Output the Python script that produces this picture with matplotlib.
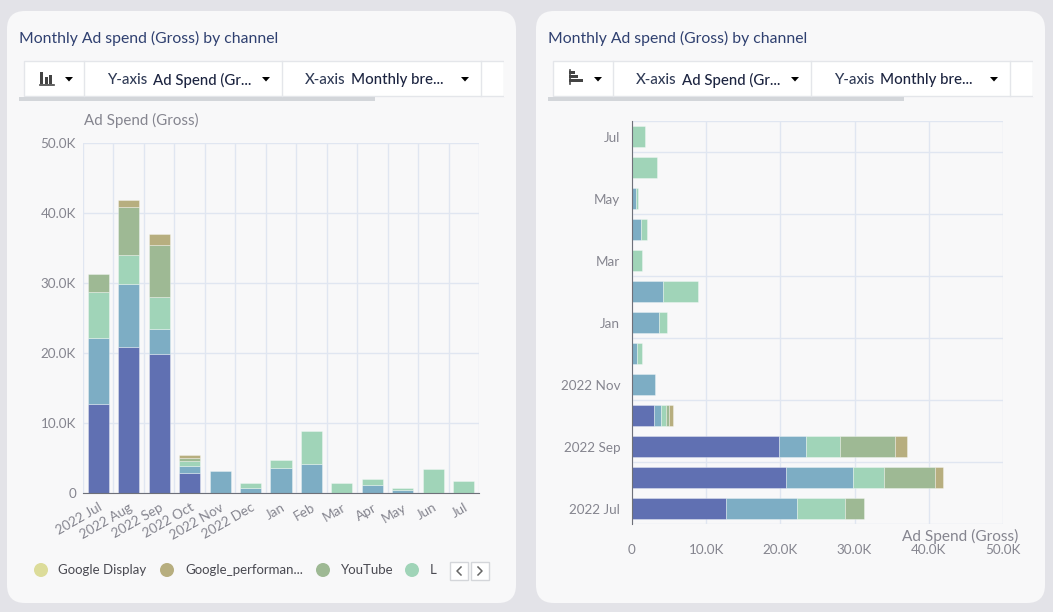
import numpy as np
import matplotlib
matplotlib.use('Agg')
import matplotlib.pyplot as plt
from matplotlib.patches import FancyBboxPatch, Rectangle, Circle, Polygon

plt.rcParams['font.family'] = ['Lato', 'DejaVu Sans']

months = ['2022 Jul', '2022 Aug', '2022 Sep', '2022 Oct', '2022 Nov', '2022 Dec',
          'Jan', 'Feb', 'Mar', 'Apr', 'May', 'Jun', 'Jul']
# valores em milhares, de baixo para cima na pilha
series_a = [12.7, 20.8, 19.8, 2.9, 0, 0, 0, 0, 0, 0, 0, 0, 0]
series_b = [9.5, 9.0, 3.7, 1.0, 3.1, 0.7, 3.6, 4.2, 0, 1.2, 0.5, 0, 0]
linkedin = [6.5, 4.2, 4.5, 0.7, 0, 0.7, 1.1, 4.7, 1.4, 0.8, 0.25, 3.4, 1.7]
youtube = [2.6, 6.8, 7.5, 0.4, 0, 0, 0, 0, 0, 0, 0, 0, 0]
google_perf = [0, 1.1, 1.5, 0.5, 0, 0, 0, 0, 0, 0, 0, 0, 0]

stack = [series_a, series_b, linkedin, youtube, google_perf]
colors = ['#6070b2', '#7dadc4', '#a0d4b8', '#9eb994', '#b7ae7f']
value_ticks = [0, 10, 20, 30, 40, 50]
value_labels = ['0', '10.0K', '20.0K', '30.0K', '40.0K', '50.0K']
legend_names = ['Google Display', 'Google_performan...', 'YouTube', 'L']
legend_colors = ['#dcdc9a', '#b7ae7f', '#9eb994', '#a0d4b8']

W, H = 1053, 612
GRID = '#e0e6f1'
TXT = '#85858f'
CARD = '#f8f8f9'
fig = plt.figure(figsize=(W / 100, H / 100), dpi=100, facecolor='#e3e3e8')

# camada de fundo em pixels (cartoes, barra de ferramentas, legenda)
bg = fig.add_axes([0, 0, 1, 1], zorder=0)
bg.set_xlim(0, W)
bg.set_ylim(H, 0)
bg.axis('off')


def card(x):
    bg.add_patch(FancyBboxPatch((x, 11), 509, 592, boxstyle='round,pad=0,rounding_size=18',
                                lw=0, fc=CARD))


def toolbar(x, first, second, icon):
    bg.text(x + 12, 38, 'Monthly Ad spend (Gross) by channel', fontsize=11.3,
            color='#2f4070', va='center')
    bg.add_patch(Rectangle((x + 17, 61), 480, 35, fc='white', ec='#e4e6ea', lw=1))
    for dx in (77, 275, 474):
        bg.plot([x + dx, x + dx], [61, 96], color='#e4e6ea', lw=1)
    bg.add_patch(Rectangle((x + 12, 97), 356, 4, fc='#d3d6da', lw=0))
    # tapa a borda direita, a barra continua cortada
    bg.add_patch(Rectangle((x + 496.5, 60), 3, 37, fc=CARD, lw=0))
    if icon == 'v':
        for dx, h in zip((33, 37.5, 42), (12, 7, 9)):
            bg.add_patch(Rectangle((x + dx, 84 - h), 3.2, h, fc='#444', lw=0))
        bg.plot([x + 33, x + 47], [84.5, 84.5], color='#444', lw=1.2)
    else:
        for dy, w in zip((72.5, 76.5, 80.5), (6, 9, 14)):
            bg.add_patch(Rectangle((x + 33, dy - 1.5), w, 3, fc='#444', lw=0))
        bg.plot([x + 33.5, x + 33.5], [70, 84], color='#444', lw=1.2)
    for tx in (62, 259, 458):
        bg.add_patch(Polygon([(x + tx - 4, 77), (x + tx + 4, 77), (x + tx, 81.5)], fc='black', lw=0))
    for tx, pair in zip((100, 298), (first, second)):
        bg.text(x + tx, 80, pair[0], fontsize=10.8, color='#2f3a55', va='center',
                fontweight='medium')
        bg.text(x + tx + 46, 80, pair[1], fontsize=10.8, color='#1c2440', va='center',
                fontweight='medium')


card(7)
card(536)
toolbar(7, ('Y-axis', 'Ad Spend (Gr...'), ('X-axis', 'Monthly bre...'), 'v')
toolbar(536, ('X-axis', 'Ad Spend (Gr...'), ('Y-axis', 'Monthly bre...'), 'h')

# legenda (rolavel, cortada como no painel original)
for cx, tx, name, c in zip((41, 167, 323, 412), (58, 185, 341, 430), legend_names, legend_colors):
    bg.add_patch(Circle((cx, 570), 7, fc=c, lw=0))
    bg.text(tx, 570.5, name, fontsize=9.5, color='#4a4a52', va='center')
for bx, d in zip((450, 471), (-1, 1)):
    bg.add_patch(Rectangle((bx, 562), 18, 18, fc='white', ec='#d4d6da', lw=1))
    mid = bx + 9
    bg.plot([mid - d * 2, mid + d * 2, mid - d * 2], [567, 571, 575], color='#666', lw=1.1)
bg.text(84, 120, 'Ad Spend (Gross)', fontsize=10.9, color=TXT, va='center')
bg.text(1018, 536, 'Ad Spend (Gross)', fontsize=11.1, color=TXT, va='center', ha='right')


def px_axes(x0, y0, x1, y1):
    a = fig.add_axes([x0 / W, 1 - y1 / H, (x1 - x0) / W, (y1 - y0) / H], zorder=1)
    a.patch.set_alpha(0)
    a.set_axisbelow(True)
    for s in a.spines.values():
        s.set_visible(False)
    return a


pos = np.arange(len(months))

# grafico vertical
ax1 = px_axes(83, 143, 479, 493)
base = np.zeros(len(months))
for vals, c in zip(stack, colors):
    vals = np.array(vals, dtype=float)
    m = vals > 0
    ax1.bar(pos[m], vals[m], bottom=base[m], width=0.69, color=c, edgecolor='#ffffff60', lw=0.6)
    base += vals
ax1.set_xlim(-0.5, 12.5)
ax1.set_ylim(0, 50)
ax1.set_yticks(value_ticks, value_labels)
ax1.set_xticks(pos)
ax1.set_xticklabels(months, rotation=30, ha='right', rotation_mode='anchor')
ax1.set_xticks(np.arange(-0.5, 13), minor=True)
ax1.grid(True, axis='y', color=GRID, lw=1)
ax1.grid(True, axis='x', which='minor', color=GRID, lw=1)
ax1.tick_params(axis='both', which='both', length=0, labelsize=9.7, labelcolor=TXT)
ax1.tick_params(axis='y', pad=5)
ax1.tick_params(axis='x', pad=6)
ax1.spines['bottom'].set_visible(True)
ax1.spines['bottom'].set_color('#6e7079')

# grafico horizontal
ax2 = px_axes(632, 121, 1003, 524)
base = np.zeros(len(months))
for vals, c in zip(stack, colors):
    vals = np.array(vals, dtype=float)
    m = vals > 0
    ax2.barh(pos[m], vals[m], left=base[m], height=0.68, color=c, edgecolor='#ffffff60', lw=0.6)
    base += vals
ax2.set_ylim(-0.5, 12.5)
ax2.set_xlim(0, 50)
ax2.set_xticks(value_ticks, value_labels)
ax2.set_yticks(pos[::2], months[::2])
# linhas horizontais so a cada dois meses, mais a borda de cima
ax2.set_yticks(list(np.arange(-0.5, 12, 2)) + [12.5], minor=True)
ax2.grid(True, axis='x', color=GRID, lw=1)
ax2.grid(True, axis='y', which='minor', color=GRID, lw=1)
ax2.tick_params(axis='both', which='both', length=0, labelsize=9.7, labelcolor=TXT)
ax2.tick_params(axis='y', pad=8.5)
ax2.tick_params(axis='x', pad=14.5)
ax2.spines['left'].set_visible(True)
ax2.spines['left'].set_color('#6e7079')

fig.savefig('out.png', dpi=100)
